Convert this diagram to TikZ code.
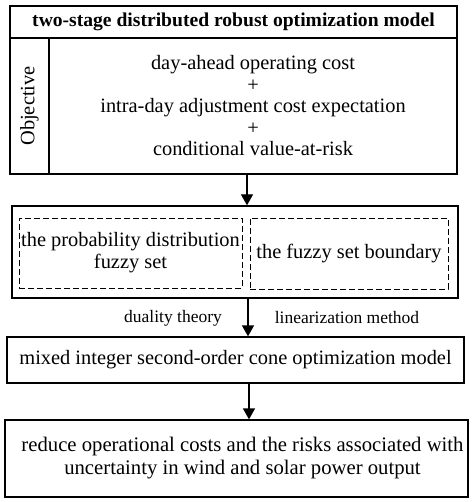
\documentclass[tikz,border=0pt]{standalone}
\usepackage{fontspec}
\setmainfont{Liberation Serif}
\usetikzlibrary{arrows.meta,calc}
\begin{document}
\begin{tikzpicture}[x=1pt,y=-1pt,
  box/.style={draw,line width=1.3pt,inner sep=0pt,align=center,font=\fontsize{20.4}{21.5}\selectfont},
  dbox/.style={draw,dashed,dash pattern=on 6pt off 3pt,line width=0.9pt,inner sep=0pt,align=center,font=\fontsize{20.4}{22}\selectfont},
  arr/.style={line width=1.3pt,-{Triangle[width=12pt,length=11pt]}},
  lbl/.style={inner sep=0pt,font=\fontsize{17.5}{19}\selectfont}]
\useasboundingbox (0,0) rectangle (474,502);
\fill[white] (0,0) rectangle (474,502);
% top block
\node[box,minimum width=447pt,minimum height=32pt,font=\fontsize{19.6}{21.5}\selectfont\bfseries] (title) at (233.5,22) {two-stage distributed robust optimization model};
\node[box,minimum width=39pt,minimum height=136pt] (objl) at (29.5,106) {\rotatebox{90}{Objective}};
\node[box,minimum width=408pt,minimum height=136pt] (obj) at (253,106) {day-ahead operating cost\\+\\intra-day adjustment cost expectation\\+\\conditional value-at-risk};
% fuzzy set block
\node[box,minimum width=446pt,minimum height=92pt] (fs) at (235,252) {};
\node[dbox,minimum width=223pt,minimum height=70pt] (pd) at (130.5,253) {the probability distribution\\fuzzy set};
\node[dbox,minimum width=198pt,minimum height=71pt] (fb) at (349,253.5) {the fuzzy set boundary};
% model
\node[box,minimum width=457pt,minimum height=46pt] (mi) at (235.5,360) {\raisebox{-3pt}{mixed integer second-order cone optimization model}};
\node[box,minimum width=463pt,minimum height=77pt,font=\fontsize{20.7}{23}\selectfont] (res) at (236.5,458.5) {\hspace*{12pt}reduce operational costs and the risks associated with\\\hspace*{12pt}uncertainty in wind and solar power output};
% arrows
\coordinate (a1) at (247,0);
\coordinate (a2) at (248,0);
\coordinate (a3) at (249,0);
\draw[arr] (obj.south -| a1) -- (fs.north -| a1);
\draw[arr] (fs.south -| a2) -- (mi.north -| a2);
\draw[arr] (mi.south -| a3) -- (res.north -| a3);
\node[lbl] (dt) at (173,318) {duality theory};
\node[lbl] (lm) at (347,318) {linearization method};
\end{tikzpicture}
\end{document}
